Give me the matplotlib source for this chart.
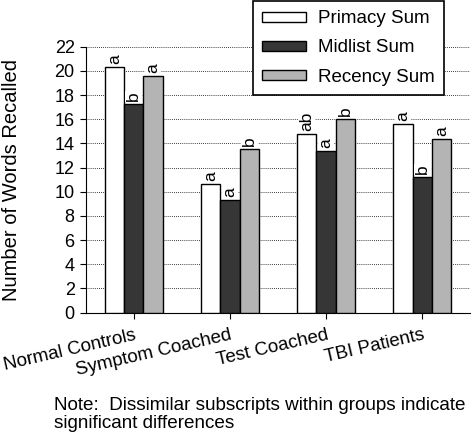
import matplotlib
matplotlib.use("Agg")
import matplotlib.pyplot as plt
import numpy as np

plt.rcParams['font.family'] = ['Liberation Sans', 'DejaVu Sans']

groups = ["Normal Controls", "Symptom Coached", "Test Coached", "TBI Patients"]
series_names = ["Primacy Sum", "Midlist Sum", "Recency Sum"]
primacy = [20.3, 10.6, 14.8, 15.6]
midlist = [17.25, 9.3, 13.4, 11.2]
recency = [19.6, 13.55, 16.05, 14.35]
primacy_sig = ["a", "a", "ab", "a"]
midlist_sig = ["b", "a", "a", "b"]
recency_sig = ["a", "b", "b", "a"]
yticks = list(range(0, 23, 2))
note_lines = ["Note:  Dissimilar subscripts within groups indicate",
              "significant differences"]

colors = ["white", "#363636", "#b4b4b4"]

fig = plt.figure(figsize=(4.74, 4.36), dpi=100)
ax = fig.add_axes([0.181, 0.283, 0.811, 0.610])

x = np.arange(len(groups))
w = 0.2
allvals = [primacy, midlist, recency]
allsig = [primacy_sig, midlist_sig, recency_sig]
handles = []
for i, (vals, sig) in enumerate(zip(allvals, allsig)):
    pos = x + (i - 1) * w
    b = ax.bar(pos, vals, width=w, color=colors[i], edgecolor="black",
               linewidth=1.0, zorder=3, label=series_names[i])
    handles.append(b)
    for p, v, s in zip(pos, vals, sig):
        ax.text(p, v + 0.25, s, rotation=90, ha="center", va="bottom",
                fontsize=12.5, zorder=4,
                bbox=dict(facecolor="white", edgecolor="none", pad=0.6))

ax.set_xlim(-0.5, 3.5)
ax.set_ylim(0, 22)
ax.set_yticks(yticks)
ax.tick_params(axis="y", labelsize=13, length=4, width=0.8, direction="out", pad=4)
ax.tick_params(axis="x", length=4, width=0.8, direction="out", pad=6)
ax.set_xticks(x)
ax.set_xticklabels(groups, rotation=13, ha="right", rotation_mode="anchor",
                   fontsize=13.5)
ax.yaxis.grid(True, linestyle=(0, (1, 1.5)), color="black", linewidth=0.6)
ax.set_axisbelow(True)
for s in ["top", "right"]:
    ax.spines[s].set_visible(False)
ax.spines["left"].set_linewidth(0.8)
ax.spines["bottom"].set_linewidth(0.8)

ax.set_ylabel("Number of Words Recalled", fontsize=14.5)
ax.yaxis.set_label_coords(-0.168, 0.5)

leg = ax.legend(handles=handles, loc="lower left",
                bbox_to_anchor=(0.435, 0.818), bbox_transform=ax.transAxes,
                fontsize=13.5, frameon=True, fancybox=False,
                handlelength=2.3, handleheight=0.45, handletextpad=0.65,
                labelspacing=0.65, borderpad=0.5, borderaxespad=0.0)
leg.get_frame().set_edgecolor("black")
leg.get_frame().set_linewidth(1.2)
leg.get_frame().set_alpha(1.0)
leg.set_zorder(10)

fig.text(0.114, 1 - 410 / 436, note_lines[0], fontsize=13.6, ha="left", va="baseline")
fig.text(0.114, 1 - 428 / 436, note_lines[1], fontsize=13.6, ha="left", va="baseline")

fig.savefig("out.png", dpi=100)
